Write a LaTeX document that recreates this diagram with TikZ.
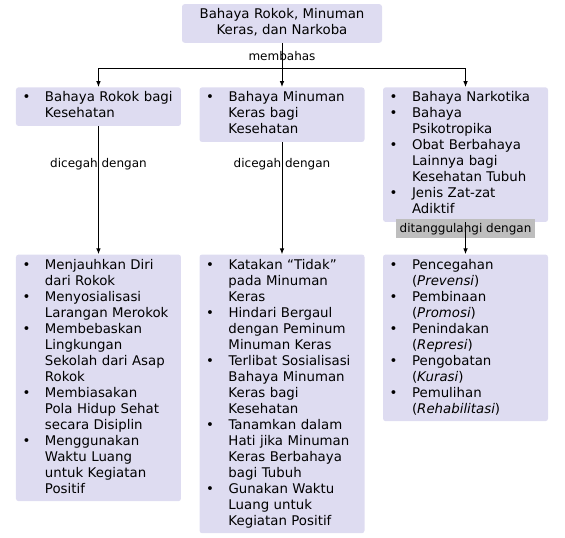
\documentclass[tikz,border=0pt]{standalone}
\usepackage{fontspec}
\setmainfont{DejaVu Sans}
\usepackage{xcolor}
\usepackage{tikz}
\usetikzlibrary{arrows.meta, positioning}

\definecolor{ungu}{RGB}{222,220,241}
\definecolor{abu}{RGB}{190,190,190}

\newcommand{\butir}{\makebox[16.75pt][l]{\textbullet}}
\newcommand{\lanjut}{\hspace*{16.75pt}}

\begin{document}
\begin{tikzpicture}[
        kotak/.style={fill=ungu, rounded corners=2pt, inner xsep=5pt, inner ysep=2.5pt, text width=113.75pt, align=left, font=\fontsize{10}{12}\selectfont, execute at begin node=\strut, execute at end node=\strut},
        kotakjudul/.style={fill=ungu, rounded corners=2pt, inner xsep=3pt, inner ysep=2.5pt, text width=144pt, align=center, font=\fontsize{10}{12}\selectfont, execute at begin node=\strut, execute at end node=\strut},
        teks/.style={inner sep=1pt, font=\fontsize{9}{11}\selectfont},
        teksabu/.style={fill=abu, inner xsep=2pt, inner ysep=2.25pt, text height=8.6pt, text depth=1.6pt, minimum width=104pt, font=\fontsize{9}{11}\selectfont},
        garis/.style={line width=0.75pt},
        panah/.style={-{Latex[length=4.5pt, width=3.5pt]}, line width=0.75pt}
    ]
        \useasboundingbox (0,0) rectangle (423.75pt,-403.5pt);

        % Nodes
            \node[kotakjudul] (judul) at (211.5pt,-17.6pt) {Bahaya Rokok, Minuman\\Keras, dan Narkoba};

            \node[kotak, below=33pt of judul] (minum) {\butir Bahaya Minuman\\ \lanjut Keras bagi\\ \lanjut Kesehatan};
            \node[kotak, left=13.5pt of minum.north west, anchor=north east] (rokok) {\butir Bahaya Rokok bagi\\ \lanjut Kesehatan};
            \node[kotak, right=13.5pt of minum.north east, anchor=north west] (narkoba) {\butir Bahaya Narkotika\\ \butir Bahaya\\ \lanjut Psikotropika\\ \butir Obat Berbahaya\\ \lanjut Lainnya bagi\\ \lanjut Kesehatan Tubuh\\ \butir Jenis Zat-zat\\ \lanjut Adiktif};

            \node[kotak, below=84pt of minum] (cegahminum) {\butir Katakan “Tidak”\\ \lanjut pada Minuman\\ \lanjut Keras\\ \butir Hindari Bergaul\\ \lanjut dengan Peminum\\ \lanjut Minuman Keras\\ \butir Terlibat Sosialisasi\\ \lanjut Bahaya Minuman\\ \lanjut Keras bagi\\ \lanjut Kesehatan\\ \butir Tanamkan dalam\\ \lanjut Hati jika Minuman\\ \lanjut Keras Berbahaya\\ \lanjut bagi Tubuh\\ \butir Gunakan Waktu\\ \lanjut Luang untuk\\ \lanjut Kegiatan Positif};
            \node[kotak, left=13.5pt of cegahminum.north west, anchor=north east] (cegahrokok) {\butir Menjauhkan Diri\\ \lanjut dari Rokok\\ \butir Menyosialisasi\\ \lanjut Larangan Merokok\\ \butir Membebaskan\\ \lanjut Lingkungan\\ \lanjut Sekolah dari Asap\\ \lanjut Rokok\\ \butir Membiasakan\\ \lanjut Pola Hidup Sehat\\ \lanjut secara Disiplin\\ \butir Menggunakan\\ \lanjut Waktu Luang\\ \lanjut untuk Kegiatan\\ \lanjut Positif};
            \node[kotak, right=13.5pt of cegahminum.north east, anchor=north west] (tangani) {\butir Pencegahan\\ \lanjut (\textit{Prevensi})\\ \butir Pembinaan\\ \lanjut (\textit{Promosi})\\ \butir Penindakan\\ \lanjut (\textit{Represi})\\ \butir Pengobatan\\ \lanjut (\textit{Kurasi})\\ \butir Pemulihan\\ \lanjut (\textit{Rehabilitasi})};

            \node[teksabu, below=-3pt of narkoba.south] (tanggul) {ditanggulangi dengan};

            % Arrows
            \draw[garis] (judul.south) -- node[teks] {membahas} ++(0,-18.75pt) coordinate (cabang);
            \draw[panah] (cabang) -| (rokok.north);
            \draw[panah] (cabang) -| (narkoba.north);
            \draw[panah] (cabang -| minum.north) -- (minum.north);
            \draw[panah] (rokok.south) -- node[teks, pos=0.3] {dicegah dengan} (cegahrokok.north);
            \draw[panah] (minum.south) -- node[teks, pos=0.2] {dicegah dengan} (cegahminum.north);
            \draw[panah] (narkoba.south) -- (tangani.north);
    \end{tikzpicture}
\end{document}
